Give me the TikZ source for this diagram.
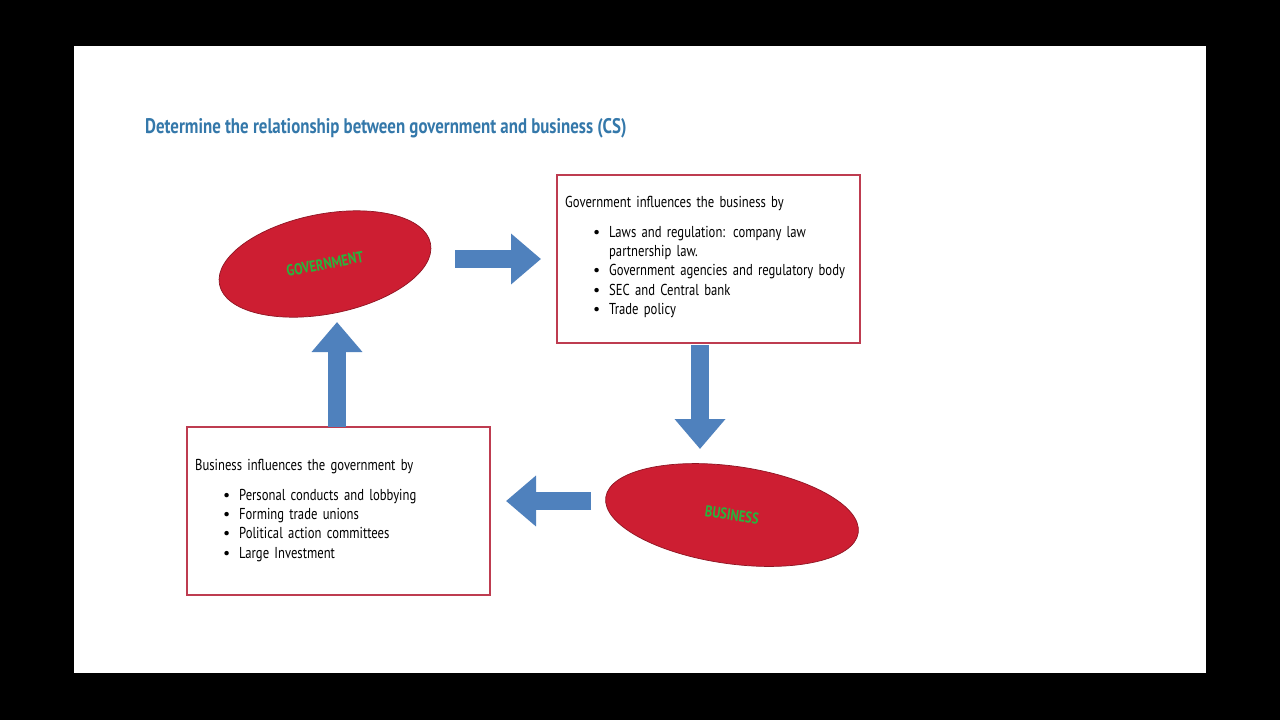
\documentclass[tikz,border=0pt]{standalone}
\usepackage{fontspec}
\setmainfont{PT Sans}
\newfontfamily\narrowfont[FakeStretch=0.8]{PT Sans}
\usetikzlibrary{arrows.meta,shapes.geometric,positioning}
\definecolor{slideblue}{RGB}{52,120,170}
\definecolor{ovalred}{RGB}{205,30,50}
\definecolor{arrowblue}{RGB}{79,129,189}
\definecolor{boxred}{RGB}{190,60,80}
\definecolor{ovalgreen}{RGB}{40,180,60}
\begin{document}
\begin{tikzpicture}[x=0.02cm,y=-0.02cm,
    oval/.style ={ellipse, fill=ovalred, draw=ovalred!70!black, inner sep=0pt,
                  font=\narrowfont\bfseries\small, text=ovalgreen},
    infobox/.style ={draw=boxred, thick, fill=white, anchor=north west, inner sep=0pt,
                  text width=#1, align=left},
    bigarrow/.style ={line width=0.36cm, draw=arrowblue,
                  -{Triangle[length=0.6cm,width=0.98cm]}}]
    \fill[black] (0,0) rectangle (1280,720);
    \fill[white] (74,46) rectangle (1206,673);
    \node[anchor=west, text=slideblue, font=\narrowfont\bfseries\large] (title) at (139,128)
        {Determine the relationship between government and business (CS)};
    % ovals
    \node[oval, minimum width=4.3cm, minimum height=2cm, rotate=11] (gov) at (325,264) {GOVERNMENT};
    \node[oval, minimum width=5.1cm, minimum height=1.95cm, rotate=-8] (bus) at (732,515) {BUSINESS};
    % boxes
    \draw[boxred, thick, fill=white] (557,175) rectangle (860,343);
    \node[anchor=north west, text width=5.8cm, font=\narrowfont\small, align=left] (govtext) at (559,190)
      {Government influences the business by\\[-1pt]
       \begin{itemize}\setlength\itemsep{-2pt}\setlength\leftskip{0pt}
       \item Laws and regulation: company law partnership law.
       \item Government agencies and regulatory body
       \item SEC and Central bank
       \item Trade policy
       \end{itemize}};
    \draw[boxred, thick, fill=white] (187,427) rectangle (490,595);
    \node[anchor=north west, text width=5.8cm, font=\narrowfont\small, align=left] (bustext) at (189,453)
      {Business influences the government by\\[-1pt]
       \begin{itemize}\setlength\itemsep{-2pt}
       \item Personal conducts and lobbying
       \item Forming trade unions
       \item Political action committees
       \item Large Investment
       \end{itemize}};
    % arrows
    \coordinate (a1) at (455,259);  \coordinate (b1) at (541,259);
    \coordinate (a2) at (700,345);  \coordinate (b2) at (700,449);
    \coordinate (a3) at (591,501);  \coordinate (b3) at (506,501);
    \coordinate (a4) at (337,427);  \coordinate (b4) at (337,322);
    \draw[bigarrow] (a1) -- (b1);
    \draw[bigarrow] (a2) -- (b2);
    \draw[bigarrow] (a3) -- (b3);
    \draw[bigarrow] (a4) -- (b4);
\end{tikzpicture}
\end{document}
